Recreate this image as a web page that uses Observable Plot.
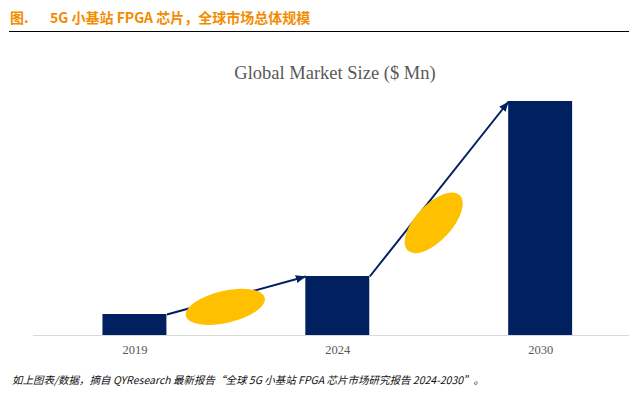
<!DOCTYPE html>
<html>
<head>
<meta charset="utf-8">
<script src="https://cdn.jsdelivr.net/npm/d3@7"></script>
<script src="https://cdn.jsdelivr.net/npm/@observablehq/plot@0.6"></script>
<style>
  html, body { margin: 0; padding: 0; background: #fff; }
  body { width: 629px; height: 399px; position: relative; overflow: hidden; }
  #rule { position: absolute; left: 9px; top: 31px; width: 620px; height: 0; border-top: 1px solid #000; }
  .hd { position: absolute; top: 10px; font-family: "Noto Sans CJK SC", "Noto Sans", sans-serif; font-weight: bold; font-size: 14px; line-height: 14px; color: #F28C00; white-space: nowrap; }
  #fig { left: 10px; }
  #ttl { left: 50px; }
  #chart { position: absolute; left: 0; top: 40px; }
  #ctitle { position: absolute; left: 335px; top: 64px; transform: translateX(-50%); font-family: "Liberation Serif", "Times New Roman", serif; font-size: 18.5px; line-height: 18.5px; color: #595959; white-space: nowrap; z-index: 2; }
  #cap { position: absolute; left: 12px; top: 374px; font-family: "Noto Sans CJK SC", sans-serif; font-style: italic; font-size: 10.5px; line-height: 12px; color: #111; white-space: nowrap; }
</style>
</head>
<body>
<div class="hd" id="fig">图.</div>
<div class="hd" id="ttl">5G 小基站 FPGA 芯片，全球市场总体规模</div>
<div id="rule"></div>
<div id="chart"></div>
<div id="ctitle">Global Market Size ($ Mn)</div>
<div id="cap">如上图表/数据，摘自 QYResearch 最新报告“全球 5G 小基站 FPGA 芯片市场研究报告 2024-2030”。</div>
<script>
// Data ($ Mn, arbitrary scale)
const years = ["2019", "2024", "2030"];
const marketSize = [21, 59, 234];

// styling constants
const NAVY = "#002060";
const GOLD = "#FFC000";
const half = 0.1576; // half bar width in band units

const bars = years.map((y, i) => ({i, year: y, value: marketSize[i]}));
const links = bars.slice(0, -1).map((d, k) => ({
  x1: d.i + half, y1: d.value,
  x2: bars[k + 1].i - half, y2: bars[k + 1].value
}));
// decorative ellipses along each growth arrow (fraction along arrow, pixel offset, size, rotation)
const decor = [
  {seg: 0, t: 0.424, dy: 9, rx: 40.5, ry: 16, rot: -13},
  {seg: 1, t: 0.464, dy: 28, rx: 38, ry: 18, rot: -47}
];

function filledArrow(color, context) {
  const ns = "http://www.w3.org/2000/svg";
  const doc = (context && context.document) || document;
  const m = doc.createElementNS(ns, "marker");
  m.setAttribute("viewBox", "-10 -5 10 10");
  m.setAttribute("markerWidth", 10);
  m.setAttribute("markerHeight", 10);
  m.setAttribute("markerUnits", "userSpaceOnUse");
  m.setAttribute("orient", "auto");
  m.setAttribute("refX", 0);
  m.setAttribute("refY", 0);
  const p = doc.createElementNS(ns, "path");
  p.setAttribute("d", "M-10,-4L0,0L-10,4Z");
  p.setAttribute("fill", color);
  p.setAttribute("stroke", "none");
  m.appendChild(p);
  return m;
}

function ellipses(index, scales) {
  const ns = "http://www.w3.org/2000/svg";
  const g = document.createElementNS(ns, "g");
  for (const e of decor) {
    const L = links[e.seg];
    const px1 = scales.x(L.x1), py1 = scales.y(L.y1);
    const px2 = scales.x(L.x2), py2 = scales.y(L.y2);
    const cx = px1 + e.t * (px2 - px1);
    const cy = py1 + e.t * (py2 - py1) + e.dy;
    const el = document.createElementNS(ns, "ellipse");
    el.setAttribute("cx", 0); el.setAttribute("cy", 0);
    el.setAttribute("rx", e.rx); el.setAttribute("ry", e.ry);
    el.setAttribute("fill", GOLD);
    el.setAttribute("transform", `translate(${cx},${cy}) rotate(${e.rot})`);
    g.appendChild(el);
  }
  return g;
}

const chart = Plot.plot({
  width: 629,
  height: 320,
  marginTop: 0, marginLeft: 0, marginRight: 0, marginBottom: 25,
  x: {type: "linear", domain: [-0.5, 2.438], range: [33, 629]},
  y: {domain: [0, 234], range: [295, 61], axis: null},
  style: {fontFamily: "'Liberation Serif', 'Times New Roman', serif", fontSize: "12.5px", color: "#595959", background: "transparent", overflow: "visible"},
  marks: [
    Plot.ruleY([0], {x1: -0.5, x2: 2.438, stroke: "#d9d9d9", strokeWidth: 1}),
    Plot.rect(bars, {x1: d => d.i - half, x2: d => d.i + half, y1: 0, y2: "value", fill: NAVY}),
    Plot.link(links, {x1: "x1", y1: "y1", x2: "x2", y2: "y2", stroke: NAVY, strokeWidth: 2, markerEnd: filledArrow}),
    ellipses,
    Plot.axisX({ticks: bars.map(d => d.i), tickFormat: i => years[i], tickSize: 0, tickPadding: 10, fontSize: 12.5, label: null})
  ]
});
document.getElementById("chart").appendChild(chart);
</script>
</body>
</html>
